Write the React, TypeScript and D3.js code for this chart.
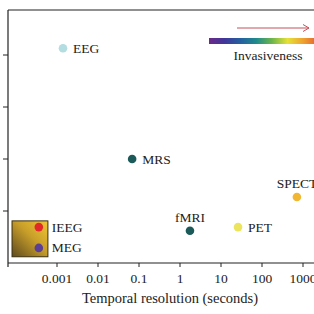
import * as d3 from "d3";

const width = 314;
const height = 314;

// data
const methods = ["EEG", "MRS", "fMRI", "PET", "SPECT", "IEEG", "MEG"];
const temporalRes = [0.0014, 0.068, 1.75, 26, 710, 0.00036, 0.00036];
const spatialLevel = [4.13, 2.0, 0.62, 0.69, 1.27, 0.69, 0.29];
const dotColors = ["#b3dde0", "#1c5a5a", "#1c5a5a", "#ece45c", "#f1b733", "#e3282a", "#5b3f94"];
const labelPos = ["right", "right", "top", "right", "top", "box", "box"];

const xTicks = [0.001, 0.01, 0.1, 1, 10, 100, 1000];
const xTickLabels = ["0.001", "0.01", "0.1", "1", "10", "100", "1000"];
const yTicks = [1, 2, 3, 4];

const invasiveColors = ["#6b2a88", "#40379a", "#24609f", "#1f8a8c", "#6cb54c", "#e5e136", "#efa12f", "#e05a31"];

const font = "'Liberation Serif', 'Times New Roman', serif";

const App = () => {
  const x = d3.scaleLog().domain([0.001, 1000]).range([57, 303]);
  const y = d3.scaleLinear().domain([0, 1]).range([263, 211]);

  const left = 8;
  const bottom = y(0);
  const top = 10;

  const box = { x0: x(0.00008), x1: x(0.0006), y0: y(0.81), y1: y(0.12) };

  return (
    <svg width={width} height={height} style={{ position: "absolute", left: 0, top: 0 }}>
      <defs>
        <linearGradient id="inv" x1="0" x2="1" y1="0" y2="0">
          {invasiveColors.map((c, i) => (
            <stop key={i} offset={i / (invasiveColors.length - 1)} stopColor={c} />
          ))}
        </linearGradient>
        <linearGradient id="boxg" x1="0" y1="1" x2="1" y2="0">
          <stop offset="0" stopColor="#5e4a1c" />
          <stop offset="0.55" stopColor="#c89e2a" />
          <stop offset="1" stopColor="#f2c634" />
        </linearGradient>
        <marker id="arr" markerWidth="8" markerHeight="8" refX="7" refY="4" orient="auto">
          <path d="M1,0.5 L7,4 L1,7.5" fill="none" stroke="#c4505a" strokeWidth={1} />
        </marker>
      </defs>
      <rect width={width} height={height} fill="#fff" />

      {/* frame */}
      <line x1={left} x2={width} y1={top} y2={top} stroke="#222" strokeWidth={1.2} />
      <line x1={left} x2={left} y1={top} y2={bottom + 4} stroke="#222" strokeWidth={1.2} />
      <line x1={left} x2={width} y1={bottom} y2={bottom} stroke="#222" strokeWidth={1.2} />
      {yTicks.map((t) => (
        <line key={t} x1={left - 5} x2={left} y1={y(t)} y2={y(t)} stroke="#222" strokeWidth={1} />
      ))}
      {xTicks.map((t, i) => (
        <g key={t}>
          <line x1={x(t)} x2={x(t)} y1={bottom} y2={bottom + 4} stroke="#222" strokeWidth={1} />
          <text x={x(t)} y={bottom + 20} textAnchor="middle" fontFamily={font} fontSize={13.5} fill="#222">
            {xTickLabels[i]}
          </text>
        </g>
      ))}
      <text x={170} y={303} textAnchor="middle" fontFamily={font} fontSize={14.5} fill="#222">
        Temporal resolution (seconds)
      </text>

      {/* invasiveness legend */}
      <line x1={237} x2={309} y1={28} y2={28} stroke="#c4505a" strokeWidth={1} markerEnd="url(#arr)" />
      <rect x={209} y={38} width={110} height={6} fill="url(#inv)" />
      <text x={268} y={60} textAnchor="middle" fontFamily={font} fontSize={13.5} fill="#222">
        Invasiveness
      </text>

      {/* intracranial box */}
      <rect x={box.x0} y={box.y0} width={box.x1 - box.x0} height={box.y1 - box.y0} fill="url(#boxg)" stroke="#3a2e10" strokeWidth={1} />

      {methods.map((m, i) => {
        const cx = x(temporalRes[i]);
        const cy = y(spatialLevel[i]);
        const pos = labelPos[i];
        const isTop = pos === "top";
        const dx = pos === "box" ? 13 : 10;
        return (
          <g key={m}>
            <circle cx={cx} cy={cy} r={4.3} fill={dotColors[i]} />
            <text
              x={isTop ? cx : cx + dx}
              y={isTop ? cy - 9 : cy + 4.5}
              textAnchor={isTop ? "middle" : "start"}
              fontFamily={font}
              fontSize={13.5}
              fill="#222"
            >
              {m}
            </text>
          </g>
        );
      })}
    </svg>
  );
};

export default App;
